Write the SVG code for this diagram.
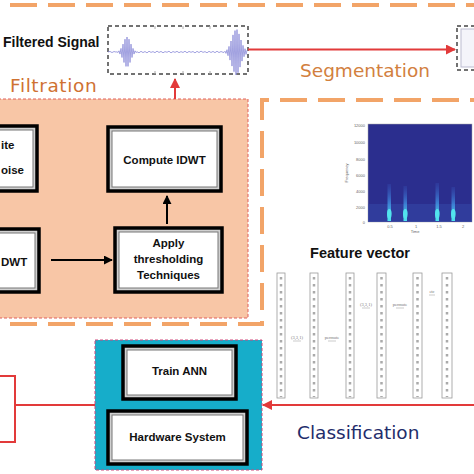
<svg xmlns="http://www.w3.org/2000/svg" width="474" height="474" viewBox="0 0 474 474">
<style>
.bx{fill:#d0d0d0;stroke:#000;stroke-width:3.5}
.bi{fill:#fff;stroke:#777;stroke-width:1}
.bt{font-family:"Liberation Sans",Arial,sans-serif;font-weight:bold;font-size:11.5px;fill:#111;text-anchor:middle}
.bs{font-family:"Liberation Sans",Arial,sans-serif;font-weight:bold;font-size:11.5px;fill:#111;text-anchor:start}
.stage{font-family:"DejaVu Sans","Liberation Sans",sans-serif;font-size:18.5px}
.org{fill:none;stroke:#f2a468;stroke-width:4;stroke-dasharray:27 11}
.red{fill:none;stroke:#e23a3a;stroke-width:2}
.blk{fill:none;stroke:#000;stroke-width:2}
.tiny{font-family:"Liberation Sans",Arial,sans-serif;font-size:4px;fill:#666}
.col{fill:none;stroke:#999;stroke-width:0.8}
.colc{fill:none;stroke:#aaa;stroke-width:2.5;stroke-dasharray:2.5 4.5}
.lab{font-family:"Liberation Serif",serif;font-size:4.5px;fill:#777;text-anchor:middle}
</style>
<defs>
<marker id="ar" viewBox="0 0 10 10" refX="9" refY="5" markerWidth="5" markerHeight="5" orient="auto" markerUnits="strokeWidth"><path d="M0,0 L10,5 L0,10 z" fill="#e23a3a"/></marker>
<marker id="ab" viewBox="0 0 10 10" refX="9" refY="5" markerWidth="4.5" markerHeight="4.5" orient="auto" markerUnits="strokeWidth"><path d="M0,0 L10,5 L0,10 z" fill="#000"/></marker>
<linearGradient id="streak" x1="0" y1="0" x2="0" y2="1">
<stop offset="0" stop-color="#3b5fc8" stop-opacity="0.2"/>
<stop offset="0.5" stop-color="#3f8ee0" stop-opacity="0.8"/>
<stop offset="1" stop-color="#4ee6f0"/>
</linearGradient>
</defs>
<rect width="474" height="474" fill="#fff"/>

<!-- orange stage frame -->
<path class="org" d="M10 5 H474"/>
<path class="org" d="M10 324 H262 V100 H474"/>

<!-- stage titles -->
<text class="stage" x="10" y="92" fill="#cf7232" font-size="19" letter-spacing="0.6">Filtration</text>
<text class="stage" x="300" y="77" fill="#d2803e">Segmentation</text>
<text class="stage" x="297" y="439" fill="#1f2d6b" font-size="19.5">Classification</text>

<!-- filtered signal -->
<g id="filtered-signal">
<text x="3" y="47" font-family="Liberation Sans,Arial,sans-serif" font-weight="bold" font-size="14" fill="#111">Filtered Signal</text>
<rect x="108" y="26" width="140" height="48" fill="#fff" stroke="#444" stroke-width="1.5" stroke-dasharray="4 3"/>
<path d="M155 26v3M183 26v3M210 26v3M155 74v-3M183 74v-3M210 74v-3" stroke="#aaa" stroke-width="1"/>
<polyline fill="none" stroke="#8a8ad8" stroke-width="0.8" points="108,52 110,51.4 112,52.6 114,51.5 116,52.1 117,51.7 118,52.6 119,50.8 120,54.1 121,48.4 122,57.5 123,44.1 124,62.5 125,39.2 126,66.4 127,37 128,66.4 129,39.2 130,62.5 131,44.1 132,57.5 133,48.4 134,54.1 135,50.8 136,52.6 137,51.7 139,52.8 141,51.3 143,52.6 145,51.5 147,52.9 149,51.2 151,52.4 153,51.6 155,52.7 157,51.1 159,52.5 161,51.4 163,52.8 165,51.6 167,52.3 169,51.2 171,52.9 173,51.5 175,52.4 177,51.3 179,52.7 181,51.6 183,52.5 185,51.2 187,52.8 189,51.4 191,52.3 193,51.5 195,52.9 197,51.3 199,52.6 201,51.1 203,52.4 205,51.6 207,52.8 209,51.3 211,52.5 213,51.4 215,52.7 217,51.2 219,52.6 221,51.5 223,52.3 224,52.4 225,51.2 226,53.4 227,49.7 228,55.7 229,46.4 230,60.1 231,41 232,66.1 233,34.9 234,71.7 235,30.6 236,75 237,29.6 238,72.7 239,33.9 240,67.1 241,40 242,61.1 243,45.4 244,56.7 245,48.7 246,54.4 247,50.2"/>
</g>

<g id="segment-box">
<rect x="457" y="26" width="22" height="44" fill="#fff" stroke="#444" stroke-width="1.5" stroke-dasharray="4 3"/>
<rect x="461" y="29" width="16" height="38" fill="#f4f4fa" stroke="#bbbbd0" stroke-width="1"/>
</g>

<!-- filtration panel -->
<g id="filtration-panel">
<rect x="-2" y="99" width="250" height="219" fill="#f8c6a6" stroke="#e0605c" stroke-width="1" stroke-dasharray="3 2"/>
</g>

<g id="white-noise">
<rect class="bx" x="-40" y="126" width="77" height="65"/>
<rect class="bi" x="-36" y="130" width="69" height="57"/>
<text class="bs" x="1" y="149">ite</text>
<text class="bs" x="1" y="174">oise</text>
</g>
<g id="dwt">
<rect class="bx" x="-40" y="229" width="79" height="63"/>
<rect class="bi" x="-36" y="233" width="71" height="55"/>
<text class="bs" x="1" y="266">DWT</text>
</g>
<g id="compute-idwt">
<rect class="bx" x="108" y="127" width="113" height="64"/>
<rect class="bi" x="112" y="131" width="105" height="56"/>
<text class="bt" x="164.5" y="164">Compute IDWT</text>
</g>
<g id="thresholding">
<rect class="bx" x="115" y="228" width="107" height="64"/>
<rect class="bi" x="119" y="232" width="99" height="56"/>
<text class="bt" x="168.5" y="247">Apply</text>
<text class="bt" x="168.5" y="263">thresholding</text>
<text class="bt" x="168.5" y="279">Techniques</text>
</g>

<!-- spectrogram -->
<g id="spectrogram">
<rect x="368" y="124" width="104" height="98" fill="#2b2e8e" stroke="#aaa" stroke-width="0.5"/>
<rect x="368" y="204" width="104" height="18" fill="#3548a8" opacity="0.55"/>
<g fill="url(#streak)">
<rect x="387.5" y="184" width="3.5" height="37"/>
<rect x="403.5" y="186" width="3.5" height="35"/>
<rect x="435.5" y="183" width="3.5" height="38"/>
<rect x="451.5" y="187" width="3.5" height="34"/>
</g>
<g fill="#52e4ee">
<ellipse cx="389.3" cy="214" rx="2.3" ry="5"/>
<ellipse cx="405.3" cy="214" rx="2.3" ry="5"/>
<ellipse cx="437.3" cy="214" rx="2.3" ry="5"/>
<ellipse cx="453.3" cy="214" rx="2.3" ry="5"/>
</g>
<g class="tiny" text-anchor="end">
<text x="365" y="126.5">12000</text>
<text x="365" y="144">10000</text>
<text x="365" y="161">8000</text>
<text x="365" y="177">6000</text>
<text x="365" y="193">4000</text>
<text x="365" y="209">2000</text>
<text x="365" y="224">0</text>
</g>
<g class="tiny" text-anchor="middle">
<text x="390" y="228">0.5</text>
<text x="416" y="228">1</text>
<text x="439" y="228">1.5</text>
<text x="463" y="228">2</text>
<text x="415" y="233">Time</text>
<text x="0" y="0" transform="translate(348,173) rotate(-90)">Frequency</text>
</g>
</g>

<g id="feature-vector">
<text x="360" y="258" font-family="Liberation Sans,Arial,sans-serif" font-weight="bold" font-size="14.5" fill="#111" text-anchor="middle">Feature vector</text>
<rect class="col" x="277" y="273" width="8" height="125"/>
<line class="colc" x1="281" y1="277" x2="281" y2="397"/>
<rect class="col" x="310" y="273" width="8" height="125"/>
<line class="colc" x1="314" y1="277" x2="314" y2="397"/>
<rect class="col" x="346" y="273" width="8" height="125"/>
<line class="colc" x1="350" y1="277" x2="350" y2="397"/>
<rect class="col" x="377" y="273" width="9" height="125"/>
<line class="colc" x1="381.5" y1="277" x2="381.5" y2="397"/>
<rect class="col" x="413" y="273" width="9" height="125"/>
<line class="colc" x1="417.5" y1="277" x2="417.5" y2="397"/>
<rect class="col" x="442" y="273" width="10" height="125"/>
<line class="colc" x1="447" y1="277" x2="447" y2="397"/>
<text class="lab" x="297" y="339">(3,3,1)</text>
<text class="lab" x="332" y="339">permute</text>
<text class="lab" x="366" y="306">(3,3,1)</text>
<text class="lab" x="400" y="306">permute</text>
<text class="lab" x="432" y="293">etc</text>
<path d="M293 341h8M328 341h8M362 308h8M396 308h8M429 295h6" stroke="#aaa" stroke-width="0.6"/>
</g>

<!-- classification panel -->
<g id="classification-panel">
<rect x="95" y="340" width="167" height="130" fill="#16adca" stroke="#d0487a" stroke-width="1" stroke-dasharray="3 2"/>
</g>
<g id="train-ann">
<rect class="bx" x="123" y="346" width="113" height="53"/>
<rect class="bi" x="127" y="350" width="105" height="45"/>
<text class="bt" x="179.5" y="375">Train ANN</text>
</g>
<g id="hardware-system">
<rect class="bx" x="108" y="411" width="139" height="53"/>
<rect class="bi" x="112" y="415" width="131" height="45"/>
<text class="bt" x="177.5" y="441">Hardware System</text>
</g>

<g id="connectors">
<line class="red" x1="248" y1="49.5" x2="455" y2="49.5" marker-end="url(#ar)"/>
<line class="red" x1="175" y1="99" x2="175" y2="79" marker-end="url(#ar)"/>
<line class="blk" x1="167" y1="224" x2="167" y2="196" marker-end="url(#ab)"/>
<line class="blk" x1="51" y1="260" x2="112" y2="260" marker-end="url(#ab)"/>
<line class="red" x1="474" y1="405" x2="263" y2="405" marker-end="url(#ar)"/>
<line class="red" x1="95" y1="405" x2="15" y2="405"/>
<path class="red" d="M0 376H15V442H0"/>
</g>
</svg>
